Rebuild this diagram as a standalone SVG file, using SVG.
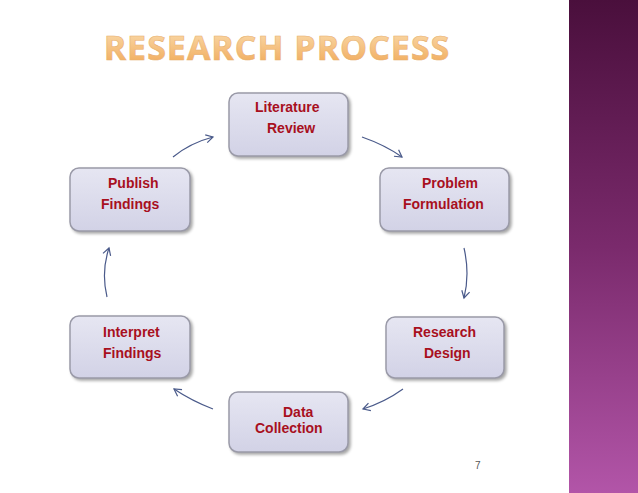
<svg xmlns="http://www.w3.org/2000/svg" width="638" height="493" viewBox="0 0 638 493">
<defs>
<linearGradient id="band" x1="0" y1="0" x2="0" y2="1"><stop offset="0" stop-color="#4a0f3c"/><stop offset="0.5" stop-color="#7a2a6c"/><stop offset="1" stop-color="#b255a8"/></linearGradient>
<linearGradient id="title" x1="0" y1="0" x2="0" y2="1"><stop offset="0" stop-color="#fbe2b8"/><stop offset="1" stop-color="#f0a450"/></linearGradient>
<linearGradient id="box" x1="0" y1="0" x2="0" y2="1"><stop offset="0" stop-color="#e6e6f2"/><stop offset="1" stop-color="#d2d2e6"/></linearGradient>
<marker id="ah" markerWidth="10" markerHeight="10" refX="8" refY="5" orient="auto" markerUnits="userSpaceOnUse"><path d="M1,1 L8,5 L1,9" fill="none" stroke="#4a5a8a" stroke-width="1.2"/></marker>
</defs>
<style>
.b{fill:url(#box);stroke:#9a9aa8;stroke-width:1.5;filter:drop-shadow(2px 2px 1.5px rgba(0,0,0,0.35))}
.t{font-family:"Liberation Sans",Arial,sans-serif;font-weight:bold;font-size:14px;fill:#a8101e}
.c{fill:none;stroke:#4a5a8a;stroke-width:1.2;marker-end:url(#ah)}
</style>
<rect width="638" height="493" fill="#fff"/>
<rect x="569" y="0" width="69" height="493" fill="url(#band)"/>
<text x="277" y="60" text-anchor="middle" font-family="'Open Sans','Liberation Sans',sans-serif" font-weight="bold" font-size="34" fill="url(#title)" stroke="#e8b070" stroke-width="0.6" letter-spacing="1">RESEARCH PROCESS</text>
<g id="lit"><rect class="b" x="229" y="93" width="119" height="63" rx="9"/><text class="t" x="255" y="112">Literature</text><text class="t" x="267" y="133">Review</text></g>
<g id="prob"><rect class="b" x="380" y="168" width="129" height="63" rx="9"/><text class="t" x="422" y="188">Problem</text><text class="t" x="403" y="209">Formulation</text></g>
<g id="des"><rect class="b" x="386" y="317" width="118" height="61" rx="9"/><text class="t" x="413" y="337">Research</text><text class="t" x="424" y="358">Design</text></g>
<g id="data"><rect class="b" x="229" y="392" width="119" height="60" rx="9"/><text class="t" x="283" y="417">Data</text><text class="t" x="255" y="433">Collection</text></g>
<g id="interp"><rect class="b" x="70" y="316" width="120" height="62" rx="9"/><text class="t" x="103" y="337">Interpret</text><text class="t" x="103" y="358">Findings</text></g>
<g id="pub"><rect class="b" x="70" y="168" width="120" height="63" rx="9"/><text class="t" x="108" y="188">Publish</text><text class="t" x="101" y="209">Findings</text></g>
<g id="connectors">
<path class="c" d="M173,157 Q190,143 213,137"/>
<path class="c" d="M362,137 Q385,145 402,157"/>
<path class="c" d="M464,248 Q470,274 464,298"/>
<path class="c" d="M403,389 Q385,402 363,409"/>
<path class="c" d="M213,409 Q192,401 174,389"/>
<path class="c" d="M107,297 Q101,272 109,248"/>
</g>
<text x="475" y="469" font-family="'Liberation Sans',Arial,sans-serif" font-size="10" fill="#555">7</text>
</svg>
